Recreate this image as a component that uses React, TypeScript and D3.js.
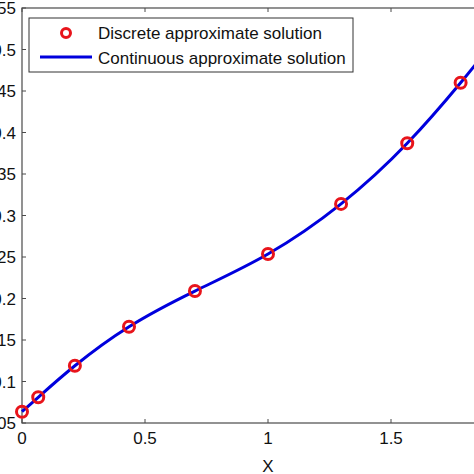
import { useEffect, useRef } from 'react';
import * as d3 from 'd3';

// discrete approximate solution (collocation nodes)
const nodeX = [0, 0.066, 0.215, 0.435, 0.703, 1.0, 1.297, 1.566, 1.783];
const nodeY = [0.0636, 0.081, 0.119, 0.166, 0.209, 0.2536, 0.314, 0.387, 0.46];

// continuous approximate solution
const curveX = [0, 0.066, 0.215, 0.435, 0.703, 1.0, 1.297, 1.566, 1.783, 1.87];
const curveY = [0.0636, 0.081, 0.119, 0.166, 0.209, 0.2536, 0.314, 0.387, 0.46, 0.492];

const xTicks = [0, 0.5, 1, 1.5];
const yTicks = [0.05, 0.1, 0.15, 0.2, 0.25, 0.3, 0.35, 0.4, 0.45, 0.5, 0.55];

const legendLabels = ['Discrete approximate solution', 'Continuous approximate solution'];

const App = () => {
  const svgRef = useRef<SVGSVGElement>(null);

  useEffect(() => {
    if (!svgRef.current) return;
    const svg = d3.select(svgRef.current);
    svg.selectAll('*').remove();

    // plot box runs past the right edge (x = 2 sits at 514px), as in the cropped original
    const left = 22;
    const right = 514;
    const top = 8;
    const bottom = 423;
    const font = 'Liberation Sans, Arial, sans-serif';
    const fontSize = '17px';
    const axisColor = '#4a4a4a';

    const x = d3.scaleLinear().domain([0, 2]).range([left, right]);
    const y = d3.scaleLinear().domain([0.05, 0.55]).range([bottom, top]);

    const g = svg.append('g');

    // box
    g.append('rect')
      .attr('x', left)
      .attr('y', top)
      .attr('width', right - left)
      .attr('height', bottom - top)
      .attr('fill', 'none')
      .attr('stroke', axisColor)
      .attr('stroke-width', 1.2);

    // ticks
    xTicks.forEach(t => {
      g.append('line')
        .attr('x1', x(t)).attr('x2', x(t))
        .attr('y1', bottom).attr('y2', bottom - 4)
        .attr('stroke', axisColor);
      g.append('line')
        .attr('x1', x(t)).attr('x2', x(t))
        .attr('y1', top).attr('y2', top + 4)
        .attr('stroke', axisColor);
      g.append('text')
        .attr('x', x(t))
        .attr('y', bottom + 21)
        .attr('text-anchor', 'middle')
        .style('font-family', font)
        .style('font-size', fontSize)
        .style('fill', '#111')
        .text(`${t}`);
    });

    yTicks.forEach(t => {
      g.append('line')
        .attr('x1', left).attr('x2', left + 4)
        .attr('y1', y(t)).attr('y2', y(t))
        .attr('stroke', axisColor);
      g.append('text')
        .attr('x', left - 6)
        .attr('y', y(t) + 6)
        .attr('text-anchor', 'end')
        .style('font-family', font)
        .style('font-size', fontSize)
        .style('fill', '#111')
        .text(`${t}`);
    });

    // x label
    g.append('text')
      .attr('x', x(1))
      .attr('y', 472)
      .attr('text-anchor', 'middle')
      .style('font-family', font)
      .style('font-size', fontSize)
      .style('fill', '#111')
      .text('X');

    // continuous curve
    const pts = curveX.map((d, i) => [d, curveY[i]] as [number, number]);
    const line = d3.line<[number, number]>()
      .x(d => x(d[0]))
      .y(d => y(d[1]))
      .curve(d3.curveNatural);

    g.append('path')
      .attr('d', line(pts))
      .attr('fill', 'none')
      .attr('stroke', '#0000dd')
      .attr('stroke-width', 3);

    // discrete nodes
    g.selectAll('circle.node')
      .data(nodeX)
      .join('circle')
      .attr('class', 'node')
      .attr('cx', d => x(d))
      .attr('cy', (_, i) => y(nodeY[i]))
      .attr('r', 5.5)
      .attr('fill', 'none')
      .attr('stroke', '#e8141b')
      .attr('stroke-width', 3);

    // legend
    const legend = g.append('g');
    legend.append('rect')
      .attr('x', 29)
      .attr('y', 18)
      .attr('width', 324)
      .attr('height', 54)
      .attr('fill', 'white')
      .attr('stroke', '#333')
      .attr('stroke-width', 1);

    legend.append('circle')
      .attr('cx', 66)
      .attr('cy', 33)
      .attr('r', 4.5)
      .attr('fill', 'none')
      .attr('stroke', '#e8141b')
      .attr('stroke-width', 3);

    legend.append('line')
      .attr('x1', 40).attr('x2', 92)
      .attr('y1', 57).attr('y2', 57)
      .attr('stroke', '#0000dd')
      .attr('stroke-width', 3);

    legendLabels.forEach((label, i) => {
      legend.append('text')
        .attr('x', 98)
        .attr('y', 39 + i * 25)
        .style('font-family', font)
        .style('font-size', fontSize)
        .style('fill', '#111')
        .text(label);
    });
  }, []);

  return (
    <svg
      ref={svgRef}
      width={474}
      height={474}
      style={{ position: 'absolute', left: 0, top: 0, background: 'white', overflow: 'hidden' }}
    />
  );
};

export default App;
